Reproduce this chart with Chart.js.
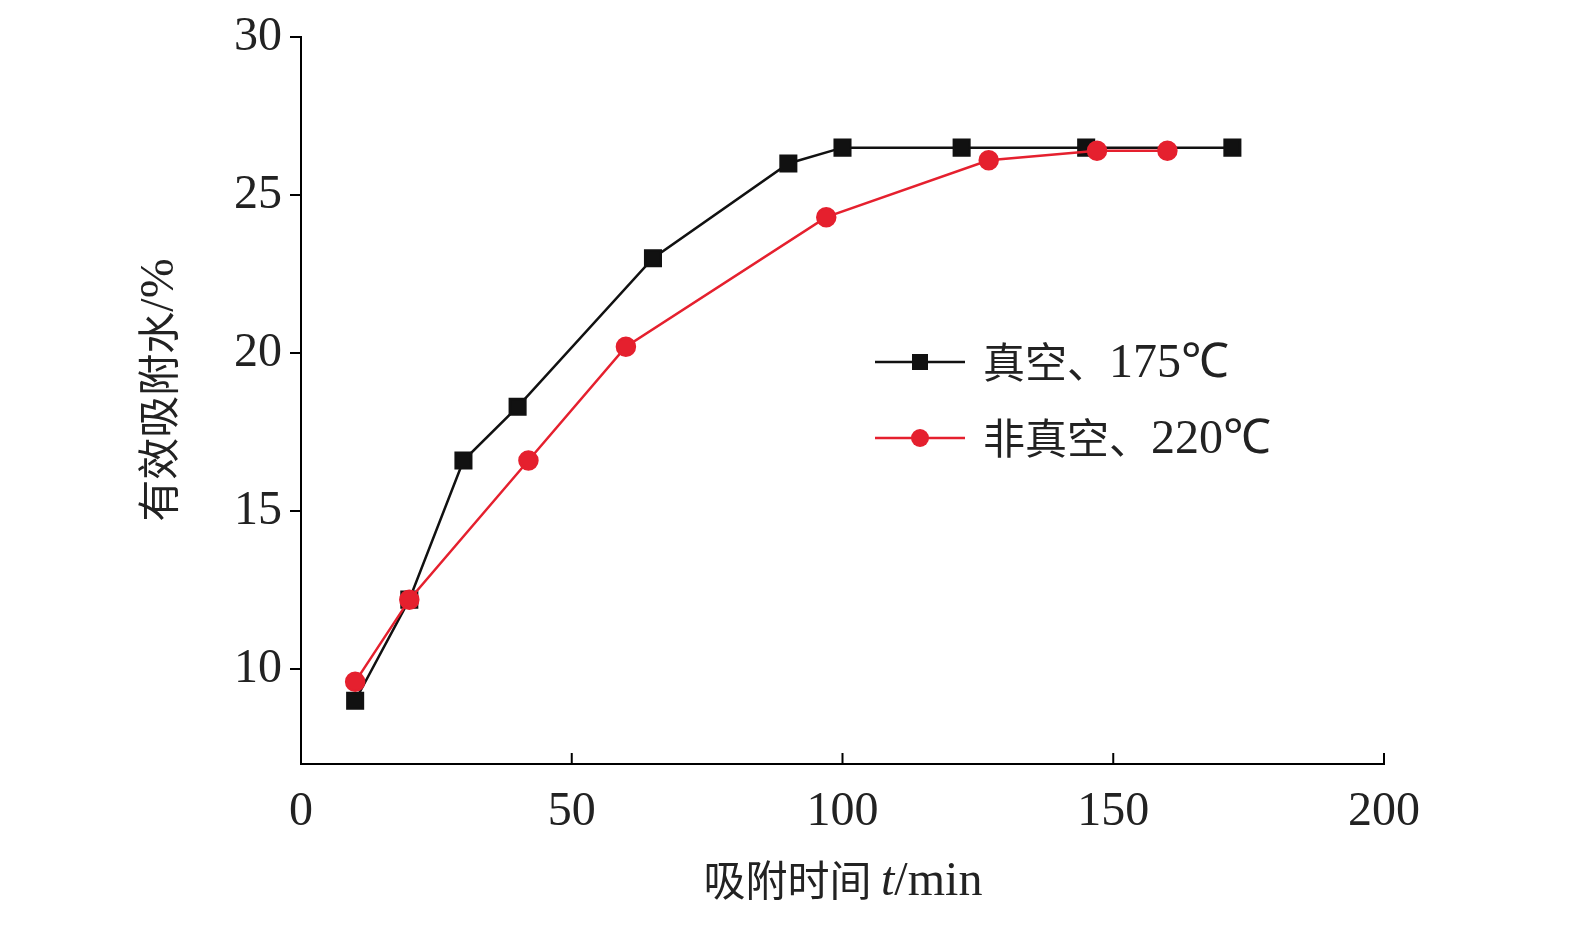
<!DOCTYPE html>
<html><head><meta charset="utf-8">
<script src="https://cdn.jsdelivr.net/npm/chart.js@4"></script>
<style>body{margin:0;background:#fff}#wrap{width:1575px;height:925px}</style>
</head><body><div id="wrap"><canvas id="c"></canvas></div>
<script>
var blackX = [10, 20, 30, 40, 65, 90, 100, 122, 145, 172];
var blackY = [9.0, 12.2, 16.6, 18.3, 23.0, 26.0, 26.5, 26.5, 26.5, 26.5];
var redX = [10, 20, 42, 60, 97, 127, 147, 160];
var redY = [9.6, 12.2, 16.6, 20.2, 24.3, 26.1, 26.4, 26.4];
var seriesNames = ['真空、175℃', '非真空、220℃'];
var xTicks = [0, 50, 100, 150, 200];
var yTicks = [10, 15, 20, 25, 30];

function pts(xs, ys){ return xs.map(function(x, i){ return {x: x, y: ys[i]}; }); }

var RED = '#e5202e';
var serif = '"Liberation Serif", "Times New Roman", serif';
var cjk = '"Noto Sans CJK SC", sans-serif';

var extras = {
  id: 'extras',
  afterDraw: function(chart){
    var ctx = chart.ctx, xs = chart.scales.x, a = chart.chartArea;
    ctx.save();
    ctx.strokeStyle = '#000'; ctx.lineWidth = 2;
    xTicks.forEach(function(v){
      var px = xs.getPixelForValue(v);
      ctx.beginPath(); ctx.moveTo(px, a.bottom); ctx.lineTo(px, a.bottom - 11); ctx.stroke();
    });
    // axis titles
    ctx.fillStyle = '#222'; ctx.textBaseline = 'middle'; ctx.textAlign = 'left';
    var t1 = '吸附时间 ';
    ctx.font = '42px ' + cjk; var w1 = ctx.measureText(t1).width;
    ctx.font = 'italic 48px ' + serif; var w2 = ctx.measureText('t').width;
    ctx.font = '48px ' + serif; var w3 = ctx.measureText('/min').width;
    var sx = 843 - (w1 + w2 + w3) / 2;
    ctx.font = '42px ' + cjk; ctx.fillText(t1, sx, 880);
    ctx.font = 'italic 48px ' + serif; ctx.fillText('t', sx + w1, 882);
    ctx.font = '48px ' + serif; ctx.fillText('/min', sx + w1 + w2, 882);
    ctx.translate(158, 390); ctx.rotate(-Math.PI / 2);
    ctx.font = '42px ' + cjk; var v1 = ctx.measureText('有效吸附水').width;
    ctx.font = '48px ' + serif; var v2 = ctx.measureText('/%').width;
    var vx = -(v1 + v2) / 2;
    ctx.font = '42px ' + cjk; ctx.fillText('有效吸附水', vx, 0);
    ctx.font = '48px ' + serif; ctx.fillText('/%', vx + v1, 2);
    ctx.restore();
    // legend
    ctx.save();
    var items = [{c: '#111', s: 'rect', y: 362}, {c: RED, s: 'circle', y: 438}];
    items.forEach(function(it, i){
      ctx.strokeStyle = it.c; ctx.fillStyle = it.c; ctx.lineWidth = 2.5;
      ctx.beginPath(); ctx.moveTo(875, it.y); ctx.lineTo(965, it.y); ctx.stroke();
      if (it.s === 'rect') ctx.fillRect(912, it.y - 8, 16, 16);
      else { ctx.beginPath(); ctx.arc(920, it.y, 9, 0, Math.PI * 2); ctx.fill(); }
      ctx.fillStyle = '#222'; ctx.textBaseline = 'middle'; ctx.textAlign = 'left';
      var name = seriesNames[i], idx = name.indexOf('、') + 1;
      var cn = name.slice(0, idx), rest = name.slice(idx);
      ctx.font = '42px ' + cjk; ctx.fillText(cn, 983, it.y);
      var w = ctx.measureText(cn).width;
      ctx.font = '48px ' + serif; ctx.fillText(rest, 983 + w, it.y + 2);
    });
    ctx.restore();
  }
};

new Chart(document.getElementById('c'), {
  type: 'scatter',
  data: {
    datasets: [
      {label: seriesNames[0], data: pts(blackX, blackY), showLine: true, borderColor: '#111', backgroundColor: '#111',
       borderWidth: 2.5, pointStyle: 'rect', pointRadius: 11, pointHoverRadius: 11, order: 2},
      {label: seriesNames[1], data: pts(redX, redY), showLine: true, borderColor: RED, backgroundColor: RED,
       borderWidth: 2.5, pointStyle: 'circle', pointRadius: 9, pointHoverRadius: 9, order: 1}
    ]
  },
  options: {
    responsive: true, maintainAspectRatio: false, animation: false,
    layout: {padding: {left: 0, top: 37, right: 191, bottom: 0}},
    plugins: {legend: {display: false}, tooltip: {enabled: false}},
    scales: {
      x: {type: 'linear', min: 0, max: 200,
          afterFit: function(s){ s.height = 161; },
          afterBuildTicks: function(s){ s.ticks = xTicks.map(function(v){ return {value: v}; }); },
          grid: {display: false, drawTicks: false},
          border: {display: true, color: '#000', width: 2},
          ticks: {padding: 20, color: '#222', font: {family: serif, size: 48}}},
      y: {min: 7, max: 30,
          afterFit: function(s){ s.width = 301; },
          afterBuildTicks: function(s){ s.ticks = yTicks.map(function(v){ return {value: v}; }); },
          grid: {display: true, drawOnChartArea: false, drawTicks: true, tickLength: 11, color: '#000', lineWidth: 2},
          border: {display: true, color: '#000', width: 2},
          ticks: {padding: 8, color: '#222', font: {family: serif, size: 48}}}
    }
  },
  plugins: [extras]
});
</script>
</body></html>
